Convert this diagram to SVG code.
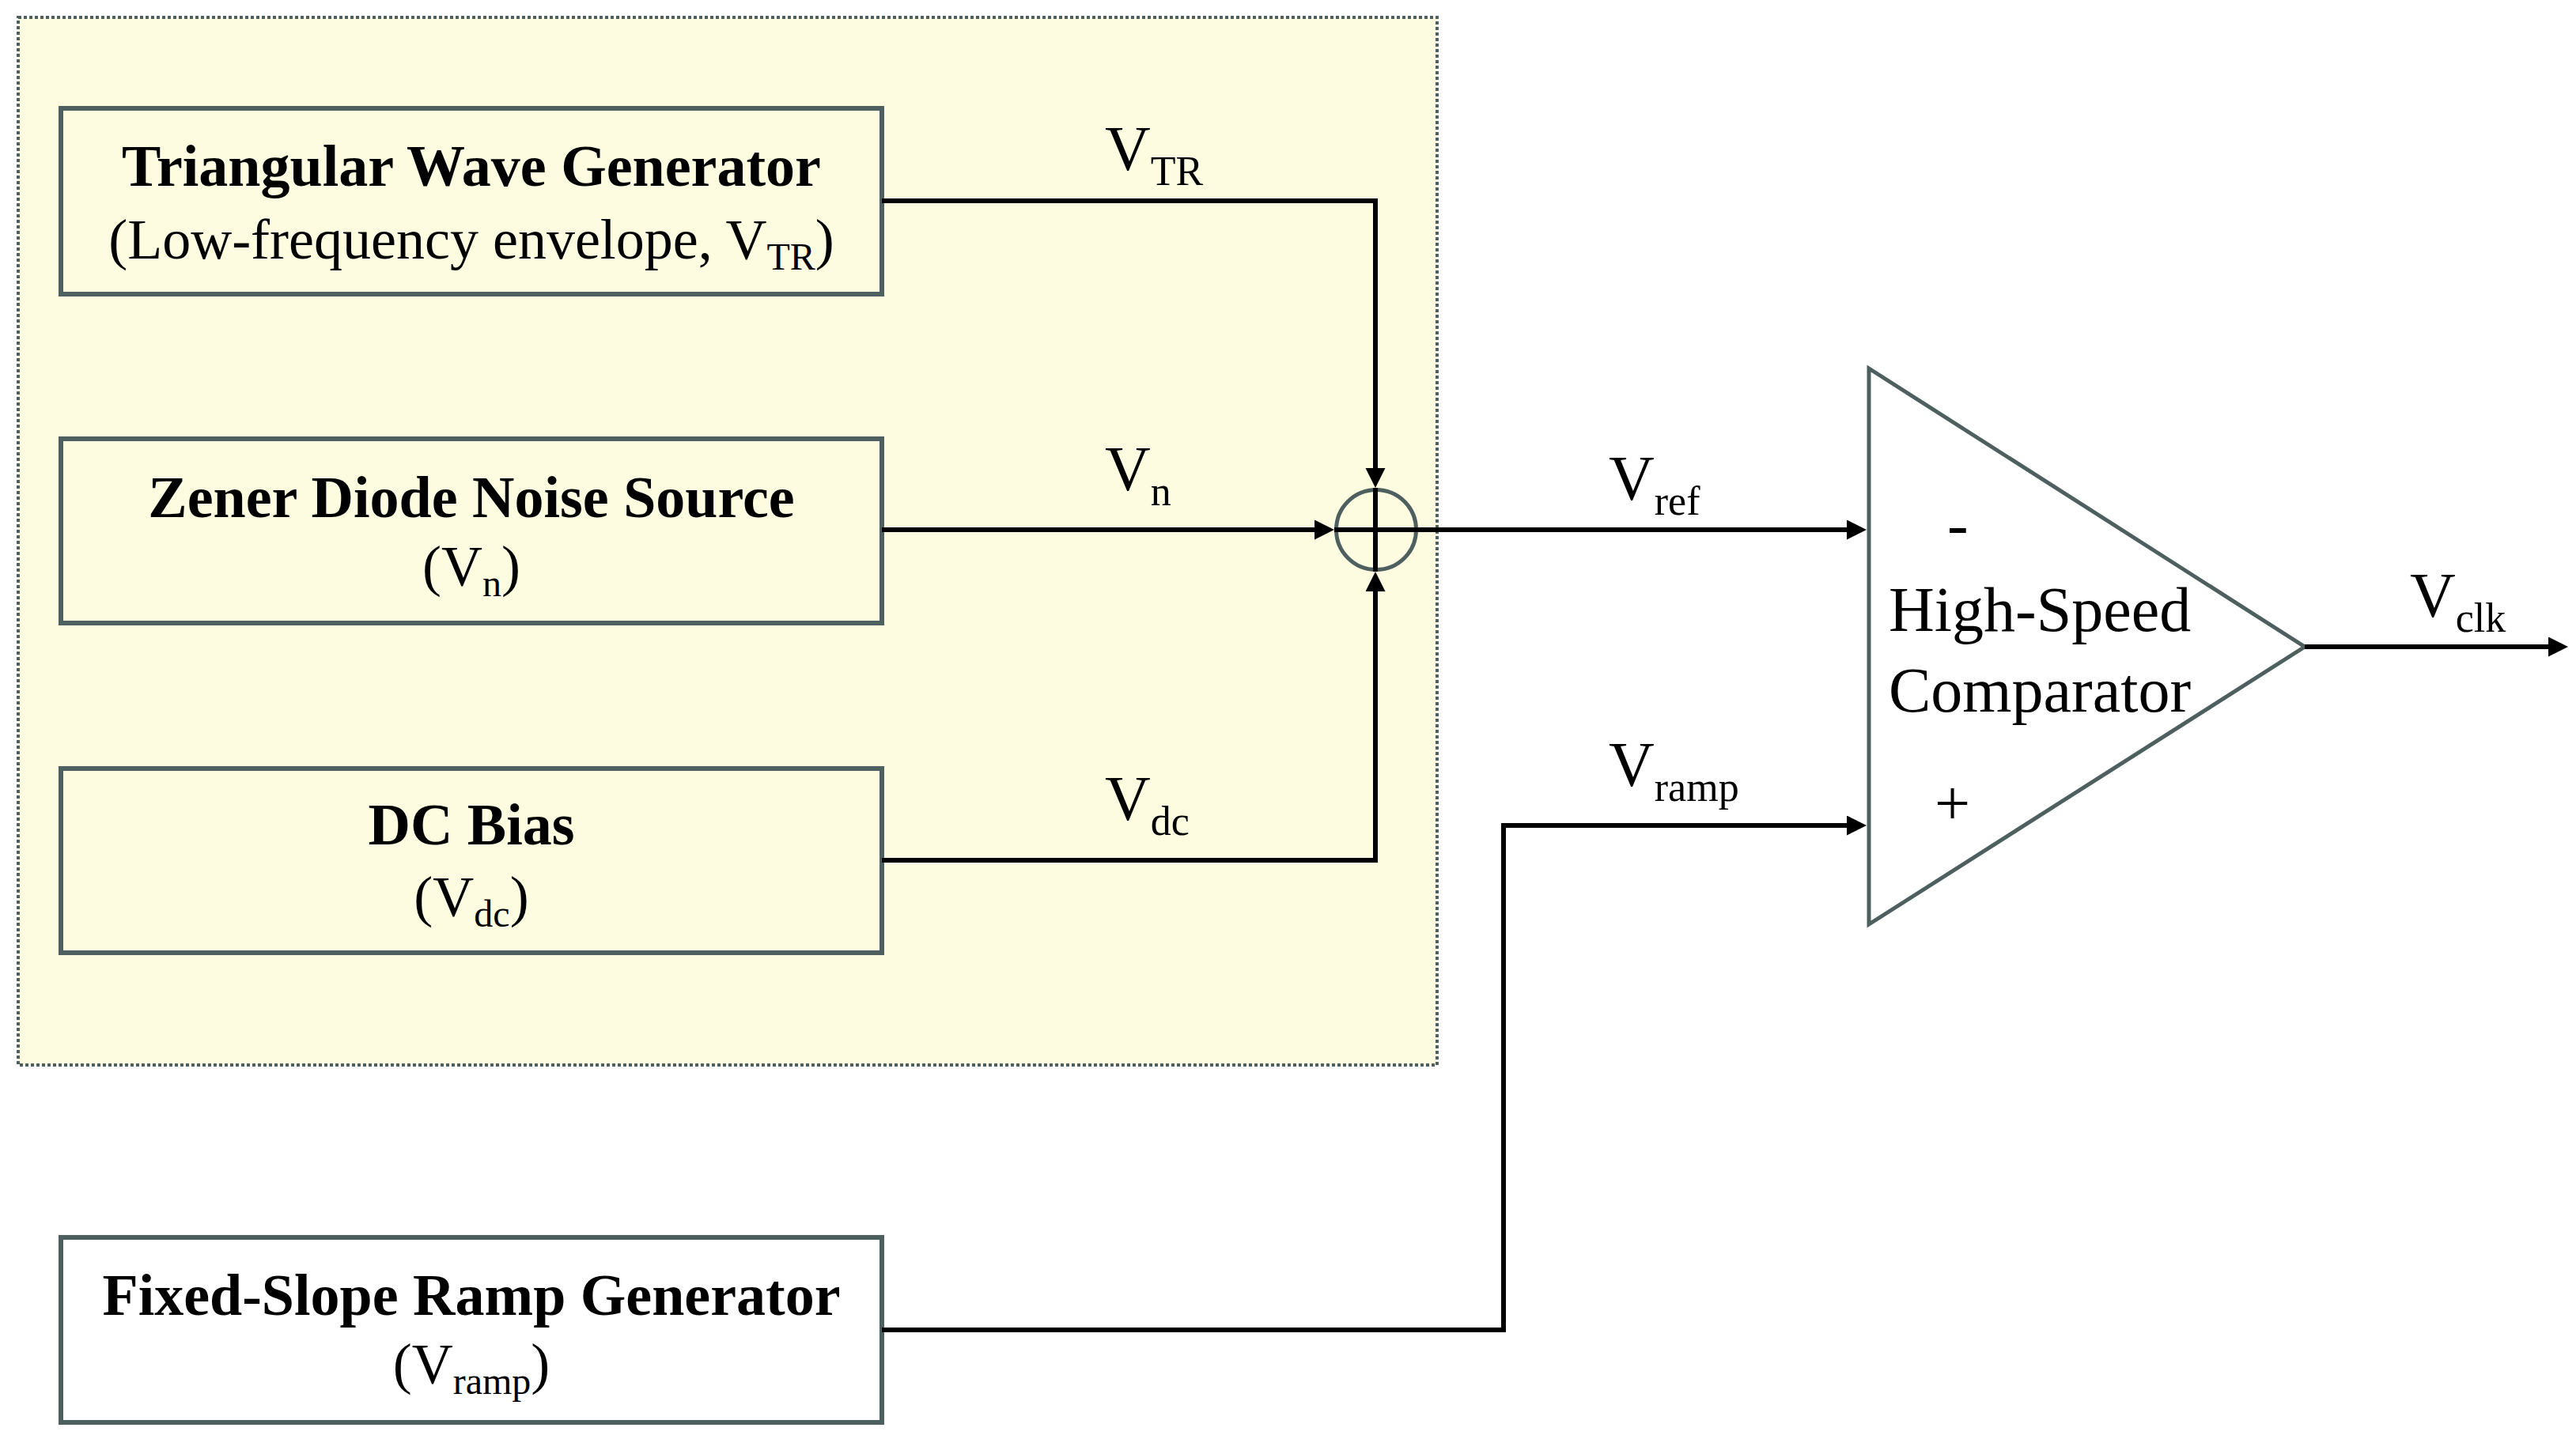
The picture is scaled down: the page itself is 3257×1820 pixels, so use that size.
<svg xmlns="http://www.w3.org/2000/svg" width="3257" height="1820" viewBox="0 0 3257 1820">
<defs>
<style>
.box{fill:none;stroke:#4E5F5F;stroke-width:6}
.title{font-family:"Liberation Serif","Times New Roman",serif;font-size:74px;font-weight:bold;fill:#000;text-anchor:middle}
.sub{font-family:"Liberation Serif","Times New Roman",serif;font-size:72px;fill:#000;text-anchor:middle}
.lbl{font-family:"Liberation Serif","Times New Roman",serif;font-size:80px;fill:#000}
.wire{fill:none;stroke:#000;stroke-width:6;marker-end:url(#arr)}
.wire0{fill:none;stroke:#000;stroke-width:6}
</style>
<marker id="arr" markerUnits="userSpaceOnUse" markerWidth="26" markerHeight="26" refX="15" refY="12.5" orient="auto">
<path d="M0,0 L25,12.5 L0,25 z" fill="#000"/>
</marker>
</defs>
<rect width="3257" height="1820" fill="#fff"/>
<g id="noise-group">
<rect x="23" y="22" width="1794" height="1325" fill="#FEFCE0" stroke="#4E5F5F" stroke-width="4" stroke-dasharray="4 3"/>
</g>
<g id="triangular">
<rect class="box" x="77" y="137" width="1038" height="235"/>
<text class="title" x="596" y="235">Triangular Wave Generator</text>
<text class="sub" x="596" y="327">(Low-frequency envelope, V<tspan font-size="48" dy="14">TR</tspan><tspan dy="-14">)</tspan></text>
</g>
<g id="zener">
<rect class="box" x="77" y="555" width="1038" height="233"/>
<text class="title" x="596" y="654">Zener Diode Noise Source</text>
<text class="sub" x="596" y="740">(V<tspan font-size="48" dy="14">n</tspan><tspan dy="-14">)</tspan></text>
</g>
<g id="dcbias">
<rect class="box" x="77" y="972" width="1038" height="233"/>
<text class="title" x="596" y="1068">DC Bias</text>
<text class="sub" x="596" y="1158">(V<tspan font-size="48" dy="14">dc</tspan><tspan dy="-14">)</tspan></text>
</g>
<g id="ramp">
<rect x="77" y="1565" width="1038" height="234" fill="#fff" stroke="#4E5F5F" stroke-width="6"/>
<text class="title" x="596" y="1663">Fixed-Slope Ramp Generator</text>
<text class="sub" x="596" y="1749">(V<tspan font-size="48" dy="14">ramp</tspan><tspan dy="-14">)</tspan></text>
</g>
<g id="summer">
<circle cx="1740" cy="670" r="50.5" fill="none" stroke="#4E5F5F" stroke-width="5"/>
<path class="wire0" d="M1739,617 V723 M1687,670 H1793"/>
</g>
<g id="comparator">
<polygon points="2363,466 2363,1169 2914,818" fill="#fff" stroke="#4E5F5F" stroke-width="5"/>
<text class="lbl" x="2388" y="798">High-Speed</text>
<text class="lbl" x="2388" y="900">Comparator</text>
<text class="lbl" x="2462" y="690">-</text>
<text class="lbl" x="2446" y="1043" font-size="88">+</text>
</g>
<g id="connectors">
<path class="wire" d="M1115,254 H1739 V607"/>
<path class="wire" d="M1115,670 H1677"/>
<path class="wire" d="M1115,1088 H1739 V733"/>
<path class="wire" d="M1793,670 H2350"/>
<path class="wire" d="M1115,1682 H1901 V1044 H2350"/>
<path class="wire" d="M2914,818 H3237"/>
</g>
<g id="labels">
<text class="lbl" x="1397" y="215">V<tspan font-size="52" dy="19">TR</tspan></text>
<text class="lbl" x="1397" y="620">V<tspan font-size="52" dy="19">n</tspan></text>
<text class="lbl" x="1397" y="1037">V<tspan font-size="52" dy="19">dc</tspan></text>
<text class="lbl" x="2034" y="632">V<tspan font-size="52" dy="19">ref</tspan></text>
<text class="lbl" x="2034" y="994">V<tspan font-size="52" dy="19">ramp</tspan></text>
<text class="lbl" x="3047" y="780">V<tspan font-size="52" dy="19">clk</tspan></text>
</g>
</svg>
